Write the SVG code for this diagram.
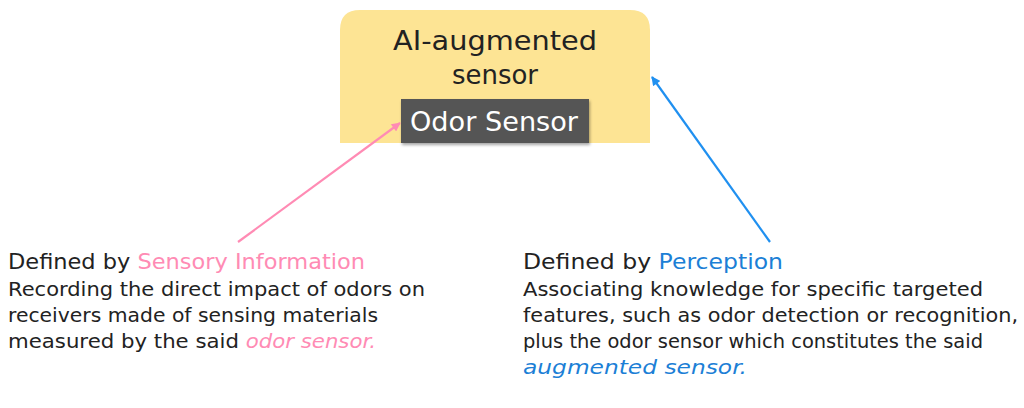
<svg xmlns="http://www.w3.org/2000/svg" width="1024" height="408" viewBox="0 0 1024 408">
  <style>
    .t { font-family: "DejaVu Sans", "Liberation Sans", sans-serif; fill: #222; }
    .title { font-size: 27px; }
    .head { font-size: 22px; }
    .body { font-size: 20px; }
    .pink { fill: #FF8BB4; }
    .blue { fill: #1C7FD6; }
    .it { font-style: italic; }
  </style>
  <defs>
    <marker id="ahPink" viewBox="0 0 10 10" refX="9" refY="5" markerWidth="10" markerHeight="9" orient="auto" markerUnits="userSpaceOnUse">
      <path d="M0,0 L10,5 L0,10 z" fill="#FF8BB4"/>
    </marker>
    <marker id="ahBlue" viewBox="0 0 10 10" refX="9" refY="5" markerWidth="10" markerHeight="9" orient="auto" markerUnits="userSpaceOnUse">
      <path d="M0,0 L10,5 L0,10 z" fill="#2090F0"/>
    </marker>
    <filter id="sh" x="-10%" y="-10%" width="120%" height="130%">
      <feDropShadow dx="1" dy="2" stdDeviation="1.5" flood-color="#000" flood-opacity="0.35"/>
    </filter>
  </defs>

  <g id="ai-sensor">
    <path d="M340,143 L340,30 Q340,10 360,10 L630,10 Q650,10 650,30 L650,143 Z" fill="#FDE494"/>
    <text class="t title" x="393" y="50" textLength="204" lengthAdjust="spacingAndGlyphs">AI-augmented</text>
    <text class="t title" x="452" y="84" textLength="86" lengthAdjust="spacingAndGlyphs">sensor</text>
  </g>

  <g id="odor-sensor">
    <rect x="401" y="99" width="188" height="44" fill="#545454" filter="url(#sh)"/>
    <text class="t title" x="410" y="131" textLength="168" lengthAdjust="spacingAndGlyphs" style="fill:#fff">Odor Sensor</text>
  </g>

  <g id="connectors">
    <line x1="238" y1="242" x2="400" y2="123" stroke="#FF8BB4" stroke-width="2.2" marker-end="url(#ahPink)"/>
    <line x1="770" y1="242" x2="652" y2="77" stroke="#2090F0" stroke-width="2.2" marker-end="url(#ahBlue)"/>
  </g>

  <g id="sensory-info">
    <text class="t head" x="8" y="269" textLength="357" lengthAdjust="spacingAndGlyphs">Defined by <tspan class="pink">Sensory Information</tspan></text>
    <text class="t body" x="8" y="296" textLength="417" lengthAdjust="spacingAndGlyphs">Recording the direct impact of odors on</text>
    <text class="t body" x="8" y="322" textLength="370" lengthAdjust="spacingAndGlyphs">receivers made of sensing materials</text>
    <text class="t body" x="8" y="348" textLength="368" lengthAdjust="spacingAndGlyphs">measured by the said <tspan class="pink it">odor sensor.</tspan></text>
  </g>

  <g id="perception">
    <text class="t head" x="523" y="269" textLength="260" lengthAdjust="spacingAndGlyphs">Defined by <tspan class="blue">Perception</tspan></text>
    <text class="t body" x="523" y="296" textLength="460" lengthAdjust="spacingAndGlyphs">Associating knowledge for specific targeted</text>
    <text class="t body" x="523" y="322" textLength="495" lengthAdjust="spacingAndGlyphs">features, such as odor detection or recognition,</text>
    <text class="t body" x="523" y="348" textLength="460" lengthAdjust="spacingAndGlyphs">plus the odor sensor which constitutes the said</text>
    <text class="t body blue it" x="523" y="374" textLength="224" lengthAdjust="spacingAndGlyphs">augmented sensor.</text>
  </g>
</svg>
